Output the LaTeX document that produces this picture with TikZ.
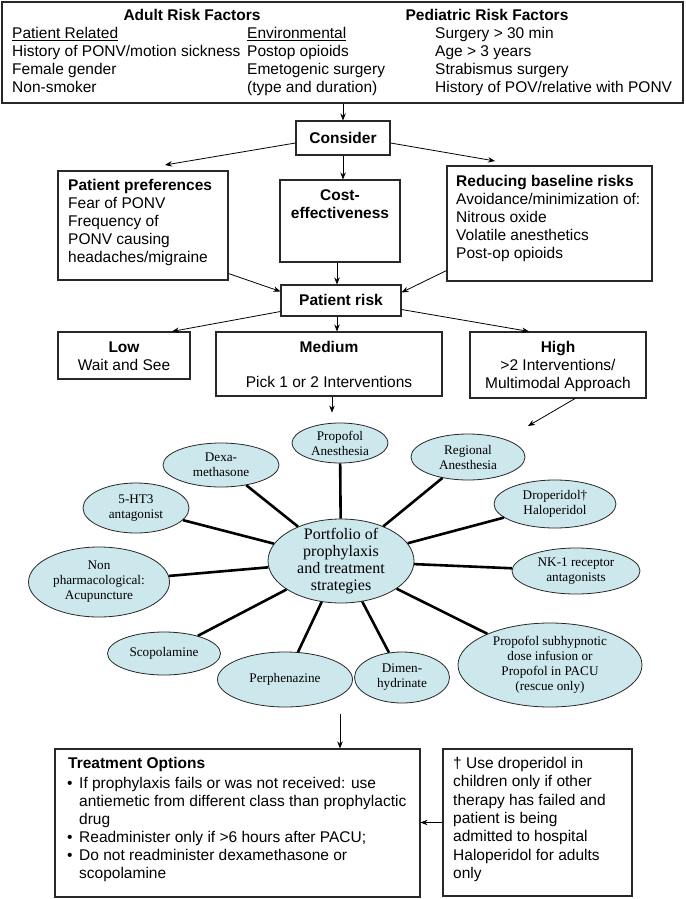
\documentclass[tikz,border=0pt]{standalone}
\usepackage{fontspec}
\setmainfont{Liberation Sans}
\newfontfamily\serifel{Liberation Serif}
\usetikzlibrary{shapes.geometric,arrows.meta,calc}
\definecolor{elfill}{RGB}{204,232,236}
\definecolor{boxline}{RGB}{40,40,40}
\begin{document}
\begin{tikzpicture}[x=1pt,y=-1pt,
  box/.style={draw=boxline, line width=1.1pt, inner sep=0, fill=white},
  txt/.style={inner sep=0, font=\fontsize{15.5}{18}\selectfont},
  btxt/.style={inner sep=0, font=\fontsize{15.5}{18}\selectfont\bfseries},
  arr/.style={-{Stealth[length=7pt,width=5.5pt]}, line width=0.8pt},
  ell/.style={ellipse, draw=boxline, line width=0.8pt, fill=elfill, inner sep=0},
  eltxt/.style={inner sep=0, align=center, font=\serifel\fontsize{13.2}{15}\selectfont},
  bigtxt/.style={inner sep=0, align=center, font=\serifel\fontsize{16}{17}\selectfont},
  spoke/.style={line width=2.6pt}]
\useasboundingbox (0,0) rectangle (685,899);
\fill[white] (0,0) rectangle (685,899);

% ---------- top box ----------
\node[box, minimum width=681, minimum height=101] (top) at (342.5,52.5) {};
\node[btxt, anchor=base] (adult) at (192,20.5) {Adult Risk Factors};
\node[btxt, anchor=base] (ped) at (487,20.5) {Pediatric Risk Factors};
\node[txt, anchor=base west] (a1) at (12,38.5) {\underline{Patient Related}};
\node[txt, anchor=base west] (a2) at (12,56.5) {History of PONV/motion sickness};
\node[txt, anchor=base west] (a3) at (12,74.5) {Female gender};
\node[txt, anchor=base west] (a4) at (12,92.5) {Non-smoker};
\node[txt, anchor=base west] (b1) at (247,38.5) {\underline{Environmental}};
\node[txt, anchor=base west] (b2) at (247,56.5) {Postop opioids};
\node[txt, anchor=base west] (b3) at (247,74.5) {Emetogenic surgery};
\node[txt, anchor=base west] (b4) at (247,92.5) {(type and duration)};
\node[txt, anchor=base west] (c1) at (435,38.5) {Surgery > 30 min};
\node[txt, anchor=base west] (c2) at (435,56.5) {Age > 3 years};
\node[txt, anchor=base west] (c3) at (435,74.5) {Strabismus surgery};
\node[txt, anchor=base west] (c4) at (435,92.5) {History of POV/relative with PONV};

% ---------- consider ----------
\node[box, minimum width=94, minimum height=34] (cons) at (343,138) {};
\node[btxt, anchor=base] (consT) at (343,143.5) {Consider};

\node[box, minimum width=170, minimum height=109] (pref) at (143,225.5) {};
\node[btxt, anchor=base west] (p1) at (68,190.5) {Patient preferences};
\node[txt, anchor=base west] (p2) at (68,208.5) {Fear of PONV};
\node[txt, anchor=base west] (p3) at (68,226.5) {Frequency of};
\node[txt, anchor=base west] (p4) at (68,244.5) {PONV causing};
\node[txt, anchor=base west] (p5) at (68,262.5) {headaches/migraine};

\node[box, minimum width=120, minimum height=82] (cost) at (340,221) {};
\node[btxt, anchor=base] (k1) at (340,200.5) {Cost-};
\node[btxt, anchor=base] (k2) at (340,218.5) {effectiveness};

\node[box, minimum width=205, minimum height=115] (red) at (549.5,223.5) {};
\node[btxt, anchor=base west] (r1) at (456,186.5) {Reducing baseline risks};
\node[txt, anchor=base west] (r2) at (456,204.5) {Avoidance/minimization of:};
\node[txt, anchor=base west] (r3) at (456,222.5) {Nitrous oxide};
\node[txt, anchor=base west] (r4) at (456,240.5) {Volatile anesthetics};
\node[txt, anchor=base west] (r5) at (456,258.5) {Post-op opioids};

% ---------- patient risk ----------
\node[box, minimum width=120, minimum height=31] (risk) at (341,300.5) {};
\node[btxt, anchor=base] (riskT) at (341,305.5) {Patient risk};

\node[box, minimum width=132, minimum height=47] (low) at (124,355.5) {};
\node[btxt, anchor=base] (l1) at (124,352.5) {Low};
\node[txt, anchor=base] (l2) at (124,370.5) {Wait and See};

\node[box, minimum width=226, minimum height=64] (med) at (329,364) {};
\node[btxt, anchor=base] (m1) at (329,352.5) {Medium};
\node[txt, anchor=base] (m2) at (329,387.5) {Pick 1 or 2 Interventions};

\node[box, minimum width=176, minimum height=66] (high) at (558,365) {};
\node[btxt, anchor=base] (h1) at (558,352.5) {High};
\node[txt, anchor=base] (h2) at (558,370.5) {>2 Interventions/};
\node[txt, anchor=base] (h3) at (558,388.5) {Multimodal Approach};

% ---------- ellipses ----------
\node[ell, minimum width=146, minimum height=84, label={[bigtxt]center:{Portfolio of\\prophylaxis\\and treatment\\strategies}}] (port) at (341,561) {};
\node[ell, minimum width=96, minimum height=40, label={[eltxt]center:{Propofol\\Anesthesia}}] (prop) at (340,443) {};
\node[ell, minimum width=116, minimum height=44, label={[eltxt]center:{Dexa-\\methasone}}] (dexa) at (221,465) {};
\node[ell, minimum width=114, minimum height=46, label={[eltxt]center:{Regional\\Anesthesia}}] (regi) at (468,457) {};
\node[ell, minimum width=106, minimum height=50, label={[eltxt]center:{5-HT3\\antagonist}}] (ht3) at (136,508) {};
\node[ell, minimum width=122, minimum height=48, label={[eltxt]center:{Droperidol\textdagger\\Haloperidol}}] (drop) at (555,504) {};
\node[ell, minimum width=141, minimum height=70, label={[eltxt]center:{Non\\pharmacological:\\Acupuncture}}] (nonp) at (99,582) {};
\node[ell, minimum width=128, minimum height=46, label={[eltxt]center:{NK-1 receptor\\antagonists}}] (nk1) at (576,571) {};
\node[ell, minimum width=113, minimum height=43, label={[eltxt]center:{Scopolamine}}] (scop) at (164,653.5) {};
\node[ell, minimum width=135, minimum height=55, label={[eltxt]center:{Perphenazine}}] (perp) at (285,679.5) {};
\node[ell, minimum width=95, minimum height=51, label={[eltxt]center:{Dimen-\\hydrinate}}] (dimen) at (402,677.5) {};
\node[ell, minimum width=184, minimum height=84, label={[eltxt]center:{Propofol subhypnotic\\dose infusion or\\Propofol in PACU\\(rescue only)}}] (psub) at (550,665) {};

\begin{scope}[on background layer/.style={}]
\foreach \e in {prop,dexa,regi,ht3,drop,nonp,nk1,scop,perp,dimen,psub}
  \draw[spoke] (port) -- (\e);
\end{scope}

% ---------- bottom ----------
\node[box, minimum width=365, minimum height=148] (treat) at (237.5,823) {};
\node[btxt, anchor=base west] (t0) at (68,768.5) {Treatment Options};
\node[txt, anchor=base west] (tb1) at (67,788.5) {\textbullet};
\node[txt, anchor=base west] (t1) at (79,788.5) {If prophylaxis fails or was not received: use};
\node[txt, anchor=base west] (t2) at (79,806.5) {antiemetic from different class than prophylactic};
\node[txt, anchor=base west] (t3) at (79,824.5) {drug};
\node[txt, anchor=base west] (tb2) at (67,842.5) {\textbullet};
\node[txt, anchor=base west] (t4) at (79,842.5) {Readminister only if >6 hours after PACU;};
\node[txt, anchor=base west] (tb3) at (67,860.5) {\textbullet};
\node[txt, anchor=base west] (t5) at (79,860.5) {Do not readminister dexamethasone or};
\node[txt, anchor=base west] (t6) at (79,878.5) {scopolamine};

\node[box, minimum width=189, minimum height=147] (foot) at (537.5,822.5) {};
\node[txt, anchor=base west] (f1) at (453,768.5) {\textdagger{} Use droperidol in};
\node[txt, anchor=base west] (f2) at (453,786.8) {children only if other};
\node[txt, anchor=base west] (f3) at (453,805.1) {therapy has failed and};
\node[txt, anchor=base west] (f4) at (453,823.4) {patient is being};
\node[txt, anchor=base west] (f5) at (453,841.7) {admitted to hospital};
\node[txt, anchor=base west] (f6) at (453,860) {Haloperidol for adults};
\node[txt, anchor=base west] (f7) at (453,878.3) {only};

% ---------- connectors ----------
\coordinate (prefIn) at (165,165);
\coordinate (redIn) at (495,161);
\coordinate (highEnd) at (528,426);
\coordinate (dstart) at (340,714);

\draw[arr] (top.south -| cons) -- (cons.north);
\draw[arr] ($(cons.west)+(0,5)$) -- (prefIn);
\draw[arr] ($(cons.east)+(0,5)$) -- (redIn);
\draw[arr] (cons.south) -- (cons.south |- cost.north);
\draw[arr] ($(pref.south east)+(0,-7)$) -- ($(risk.north west)+(0,7)$);
\draw[arr] ($(cost.south)+(-3,0)$) -- ($(risk.north)+(-4,0)$);
\draw[arr] ($(red.south west)+(0,-11)$) -- ($(risk.north east)+(0,8)$);
\draw[arr] ($(risk.west)+(0,11)$) -- ($(low.north)+(48,0)$);
\draw[arr] ($(risk.south)+(-4,0)$) -- ($(med.north)+(8,0)$);
\draw[arr] ($(risk.east)+(0,9)$) -- ($(high.north)+(-29,0)$);
\draw[arr] ($(med.south)+(3,0)$) -- ($(prop.north)+(-8,-10)$);
\draw[arr] ($(high.south)+(17,0)$) -- (highEnd);
\draw[arr] (dstart) -- (dstart |- treat.north);
\draw[arr] (foot.west) -- (foot.west -| treat.east);
\end{tikzpicture}
\end{document}
